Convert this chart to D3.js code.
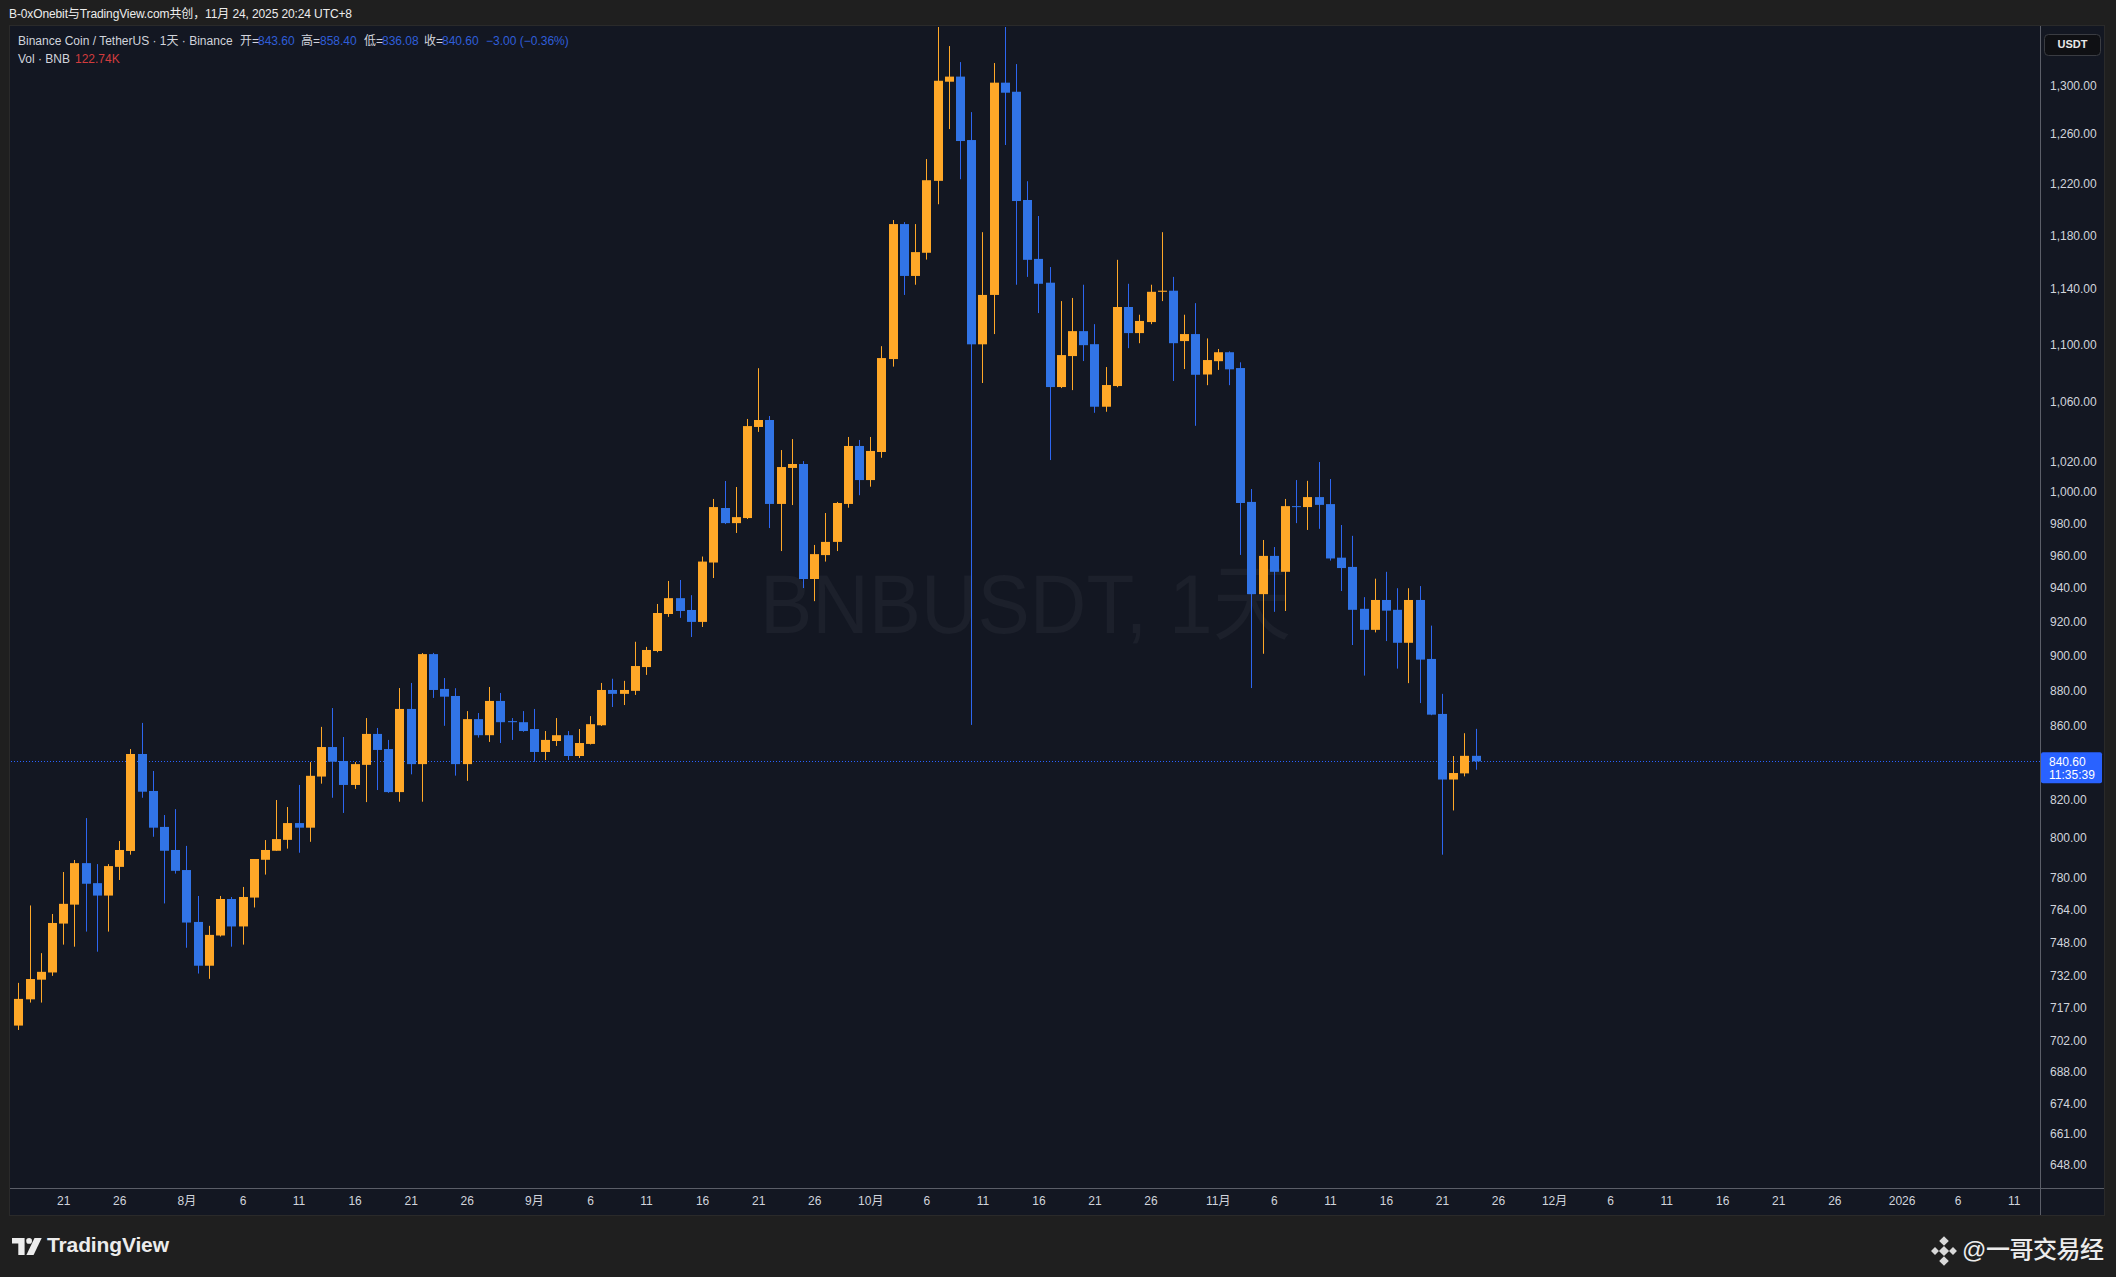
<!DOCTYPE html>
<html><head><meta charset="utf-8">
<script src="https://cdn.jsdelivr.net/npm/d3@7"></script>
<style>html,body{margin:0;padding:0;background:#1f1f1f;overflow:hidden}
text{font-family:"Liberation Sans","Noto Sans CJK SC",sans-serif}</style>
</head><body>
<svg id="c" width="2116" height="1277"></svg>
<script>
// ---------------- DATA ----------------
const firstDay = "2025-07-17";   // one daily candle per day, through 2025-11-24
const open  = [708.9,721.0,730.2,733.6,757.1,766.4,787.2,777.1,770.9,785.3,793.4,844.6,824.7,805.8,793.9,783.7,757.9,736.8,751.3,769.2,
755.7,769.9,788.9,793.5,799.1,807.8,805.4,832.4,848.4,840.8,827.9,838.7,855.6,847.3,824.1,869.5,839.1,900.8,880.8,876.8,
839.1,863.8,854.9,874.0,862.7,862.1,858.3,845.7,851.7,854.9,843.5,850.1,860.4,880.2,878.0,879.7,893.3,902.6,924.4,933.9,
926.8,919.7,955.6,989.8,980.2,983.4,1042.9,1047.6,992.4,1015.7,1018.3,945.5,960.2,968.4,992.4,1030.2,1007.8,1026.2,1089.6,1188.7,
1149.6,1166.9,1222.3,1303.0,1307.3,1254.9,1100.0,1135.6,1302.2,1294.6,1207.3,1162.3,1144.6,1070.1,1091.7,1109.4,1100.1,1056.6,1070.8,1126.8,
1108.0,1115.9,1137.9,1138.7,1102.3,1107.3,1078.8,1088.1,1094.4,1083.3,993.7,936.3,959.7,949.9,991.0,990.4,996.8,992.3,958.6,952.9,
927.5,915.0,932.8,926.9,907.4,932.8,898.0,866.7,830.8,834.1,843.6];
const high  = [728.7,766.0,742.8,761.8,782.7,788.8,810.4,786.7,786.7,798.5,847.3,861.7,835.4,812.0,815.1,796.0,770.7,756.0,770.7,770.2,
775.2,789.3,799.0,819.9,816.2,827.9,840.2,859.5,870.0,853.9,840.2,864.4,858.9,852.3,881.3,884.2,901.4,901.5,887.0,881.2,
868.3,867.2,881.9,878.5,864.4,868.3,869.5,857.2,864.4,857.2,858.3,865.5,884.2,886.6,885.4,908.0,905.0,930.4,944.3,944.9,
935.7,959.3,995.6,1007.2,1003.3,1048.3,1083.2,1050.3,1027.5,1034.8,1020.2,966.5,986.6,993.7,1036.2,1034.2,1036.2,1098.7,1191.8,1190.2,
1188.7,1239.6,1352.0,1333.3,1319.6,1277.7,1182.5,1318.8,1370.0,1317.9,1222.0,1194.9,1156.2,1131.1,1133.4,1143.1,1114.4,1084.0,1161.6,1143.8,
1121.2,1143.1,1182.5,1148.9,1121.2,1129.6,1104.2,1096.7,1095.0,1087.3,1002.0,969.6,965.2,995.6,1007.8,1007.3,1019.6,1008.5,979.0,972.2,
934.5,945.7,949.9,939.9,939.9,941.2,917.5,878.0,843.5,856.0,858.4];
const low   = [706.9,719.5,719.5,732.0,746.9,745.9,753.2,743.5,753.2,778.7,791.5,821.1,800.7,767.0,781.9,745.4,733.1,730.6,750.8,745.9,
746.9,765.0,781.4,793.5,794.6,792.5,798.1,828.6,821.1,813.1,825.8,818.8,825.2,823.7,819.0,833.6,819.0,875.7,860.1,832.9,
830.1,853.6,851.2,850.6,852.3,856.8,840.4,841.3,849.0,841.3,842.4,849.8,860.0,870.6,871.7,877.4,888.8,901.9,922.7,922.1,
910.8,916.7,946.1,979.6,974.0,982.8,1039.6,977.1,962.7,991.7,940.0,932.1,956.2,962.7,990.0,998.0,1003.5,1022.4,1084.3,1135.6,
1143.1,1161.8,1204.0,1263.8,1223.6,860.6,1072.9,1107.3,1250.9,1143.1,1148.9,1122.4,1020.9,1069.4,1068.0,1088.2,1052.5,1053.2,1070.0,1097.3,
1100.8,1114.4,1131.1,1074.3,1082.6,1043.7,1071.4,1082.0,1071.4,960.3,881.3,901.0,925.7,926.2,980.2,975.9,976.6,956.8,938.2,906.1,
888.4,913.5,908.4,892.4,884.1,872.8,866.0,791.5,814.4,832.5,836.08];
const close = [721.2,730.5,733.9,757.4,766.8,787.2,776.8,770.9,785.7,793.9,844.6,824.3,805.4,793.5,783.3,757.6,736.8,751.6,769.2,755.7,
770.2,789.3,793.9,799.5,807.8,805.4,832.8,848.4,840.4,827.9,839.1,855.6,846.8,824.1,869.5,839.1,900.8,880.2,876.4,839.1,
863.8,854.9,874.0,862.1,862.1,857.2,845.7,852.3,854.9,843.5,850.6,861.0,880.2,878.0,880.2,893.9,903.2,925.0,933.9,926.2,
919.7,956.2,990.4,980.2,984.0,1043.5,1047.6,992.4,1016.3,1018.3,945.5,960.8,968.4,993.0,1030.2,1007.8,1026.9,1090.3,1188.7,1149.6,
1167.4,1222.8,1303.8,1307.3,1254.1,1100.0,1135.6,1302.2,1293.8,1206.5,1161.6,1143.8,1070.1,1092.4,1109.4,1099.4,1056.6,1071.5,1126.8,1108.0,
1116.7,1137.9,1138.7,1100.8,1107.3,1078.6,1088.9,1094.4,1082.4,993.0,936.3,959.7,949.9,991.0,990.6,996.8,991.8,958.1,952.2,926.9,
915.0,932.8,926.4,907.4,932.8,897.6,866.3,830.8,834.3,843.6,840.6];

const xTickDates  = ["2025-07-21","2025-07-26","2025-08-01","2025-08-06","2025-08-11","2025-08-16","2025-08-21","2025-08-26",
"2025-09-01","2025-09-06","2025-09-11","2025-09-16","2025-09-21","2025-09-26","2025-10-01","2025-10-06","2025-10-11","2025-10-16",
"2025-10-21","2025-10-26","2025-11-01","2025-11-06","2025-11-11","2025-11-16","2025-11-21","2025-11-26","2025-12-01","2025-12-06",
"2025-12-11","2025-12-16","2025-12-21","2025-12-26","2026-01-01","2026-01-06","2026-01-11"];
const xTickLabels = ["21","26","8月","6","11","16","21","26","9月","6","11","16","21","26","10月","6","11","16","21","26",
"11月","6","11","16","21","26","12月","6","11","16","21","26","2026","6","11"];
const yTicks = [1300,1260,1220,1180,1140,1100,1060,1020,1000,980,960,940,920,900,880,860,820,800,780,764,748,732,717,702,688,674,661,648];
const lastPrice = 840.60;
const lastCountdown = "11:35:39";
const headerText = "B-0xOnebit与TradingView.com共创，11月 24, 2025 20:24 UTC+8";
const legendTitle = "Binance Coin / TetherUS · 1天 · Binance";
const legendPairs = [["开=","843.60"],["高=","858.40"],["低=","836.08"],["收=","840.60"]];
const legendChange = "−3.00 (−0.36%)";
const volText = ["Vol · BNB","122.74K"];
const watermark = "BNBUSDT, 1天";

// ---------------- LAYOUT ----------------
const W=2116,H=1277;
const panel={x:10,y:26,r:2104,b:1215};
const plot={l:11,t:27,r:2040,b:1188};
const UP="#ffa828", DOWN="#3174e6", DOWNW="#2d66f0";
const TXT="#d1d4dc";

const svg=d3.select("#c");
const parse=d3.utcParse("%Y-%m-%d");
const d0=parse(firstDay);
const dates=d3.utcDay.range(d0, d3.utcDay.offset(d0, open.length));
const data=dates.map((d,i)=>({d,o:open[i],h:high[i],l:low[i],c:close[i]}));

const pxDay=11.21;
const x=d3.scaleUtc().domain([d0, d3.utcDay.offset(d0,180)]).range([18.3, 18.3+180*pxDay]);
const y=d3.scaleLog().domain([638.4,1349.8]).range([plot.b,plot.t]);

// backgrounds
svg.append("rect").attr("width",W).attr("height",H).attr("fill","#1f1f1f");
svg.append("rect").attr("x",panel.x-1).attr("y",panel.y-1).attr("width",panel.r-panel.x+2).attr("height",panel.b-panel.y+2).attr("fill","#2a2a2a");
svg.append("rect").attr("x",panel.x).attr("y",panel.y).attr("width",panel.r-panel.x).attr("height",panel.b-panel.y).attr("fill","#131722");

// header
svg.append("text").attr("x",9).attr("y",14.5).attr("dominant-baseline","middle").attr("fill","#ececec")
  .style("font-size","12px").attr("textLength",343).text(headerText);

// watermark
svg.append("text").attr("x",(plot.l+plot.r)/2).attr("y",633).attr("text-anchor","middle")
  .attr("fill","#1c202b").style("font-size","84px").attr("textLength",531).attr("lengthAdjust","spacingAndGlyphs")
  .text(watermark);

// clip
svg.append("clipPath").attr("id","pc").append("rect").attr("x",plot.l).attr("y",plot.t).attr("width",plot.r-plot.l).attr("height",plot.b-plot.t);
const g=svg.append("g").attr("clip-path","url(#pc)");

// last price dotted line
g.append("line").attr("x1",plot.l).attr("x2",plot.r).attr("y1",Math.round(y(lastPrice))+0.5).attr("y2",Math.round(y(lastPrice))+0.5)
  .attr("stroke","#2962ff").attr("stroke-width",1).attr("stroke-dasharray","1,2");

// candles
const cg=g.selectAll("g.c").data(data).join("g");
cg.append("rect").attr("x",d=>Math.round(x(d.d))).attr("width",1)
  .attr("y",d=>y(d.h)).attr("height",d=>Math.max(1,y(d.l)-y(d.h)))
  .attr("fill",d=>d.c>=d.o?UP:DOWNW);
cg.append("rect").attr("x",d=>Math.round(x(d.d))-4).attr("width",9)
  .attr("y",d=>y(Math.max(d.o,d.c))).attr("height",d=>Math.max(1,Math.abs(y(d.o)-y(d.c))))
  .attr("fill",d=>d.c>=d.o?UP:DOWN);

// separators
svg.append("line").attr("x1",plot.r+0.5).attr("x2",plot.r+0.5).attr("y1",panel.y).attr("y2",panel.b).attr("stroke","#5b5e68");
svg.append("line").attr("x1",panel.x).attr("x2",panel.r).attr("y1",plot.b+0.5).attr("y2",plot.b+0.5).attr("stroke","#5b5e68");

// x axis
const xa=svg.append("g").attr("transform",`translate(0,${plot.b})`)
  .call(d3.axisBottom(x).tickValues(xTickDates.map(parse)).tickFormat((d,i)=>xTickLabels[i]).tickSize(0).tickPadding(8));
xa.select(".domain").remove();
xa.selectAll("text").attr("fill",TXT).style("font-size","12px").style("font-family",'"Liberation Sans","Noto Sans CJK SC",sans-serif');

// y axis
const ya=svg.append("g").attr("transform",`translate(${plot.r},0)`)
  .call(d3.axisRight(y).tickValues(yTicks).tickFormat(d3.format(",.2f")).tickSize(0).tickPadding(10));
ya.select(".domain").remove();
ya.selectAll("text").attr("fill",TXT).style("font-size","12px").style("font-family",'"Liberation Sans",sans-serif');

// USDT button
svg.append("rect").attr("x",2044.5).attr("y",34.5).attr("width",56).attr("height",21).attr("rx",4)
  .attr("fill","#0f1014").attr("stroke","#3a3c42");
svg.append("text").attr("x",2072.5).attr("y",45.5).attr("text-anchor","middle").attr("dominant-baseline","middle")
  .attr("fill","#e8e8e8").style("font-size","11px").style("font-weight","bold").text("USDT");

// last price label
const ly=y(lastPrice);
svg.append("rect").attr("x",plot.r+1).attr("y",ly-9).attr("width",61).attr("height",31).attr("rx",2).attr("fill","#2962ff");
svg.append("text").attr("x",2049).attr("y",ly+1).attr("dominant-baseline","middle").attr("fill","#ffffff")
  .style("font-size","12px").text(d3.format(",.2f")(lastPrice));
svg.append("text").attr("x",2049).attr("y",ly+14).attr("dominant-baseline","middle").attr("fill","#ffffff")
  .style("font-size","12px").text(lastCountdown);

// legend
const lg=svg.append("g").style("font-size","12px");
lg.append("text").attr("x",18).attr("y",45).attr("fill",TXT).text(legendTitle);
const pairX=[[240,258],[301,320],[364,382],[424,442]];
const VALC="#2f5ed9";
legendPairs.forEach((p,i)=>{
  lg.append("text").attr("x",pairX[i][0]).attr("y",45).attr("fill",TXT).text(p[0]);
  lg.append("text").attr("x",pairX[i][1]).attr("y",45).attr("fill",VALC).text(p[1]);
});
lg.append("text").attr("x",486).attr("y",45).attr("fill",VALC).text(legendChange);
lg.append("text").attr("x",18).attr("y",62.5).attr("fill",TXT).text(volText[0]);
lg.append("text").attr("x",75).attr("y",62.5).attr("fill","#d23c3e").text(volText[1]);

// footer: TradingView logo
const tv=svg.append("g").attr("transform","translate(12,1238) scale(0.9)").attr("fill","#ececec");
tv.append("path").attr("d","M0,0H14V19H7V6H0Z");
tv.append("circle").attr("cx",19).attr("cy",3.2).attr("r",3.2);
tv.append("path").attr("d","M25,0H33L24,19H16Z");
svg.append("text").attr("x",47).attr("y",1246).attr("dominant-baseline","middle").attr("fill","#ececec")
  .style("font-size","21px").style("font-weight","bold").attr("textLength",122).text("TradingView");

// footer: Binance watermark
const bn=svg.append("g").attr("transform","translate(1944,1251)").attr("fill","#d9d9d9");
[[0,0,3.6],[0,-10,3.4],[0,10,3.4],[-9,0,2.8],[9,0,2.8]].forEach(([dx,dy,s])=>{
  bn.append("rect").attr("x",dx-s).attr("y",dy-s).attr("width",2*s).attr("height",2*s).attr("transform",`rotate(45,${dx},${dy})`);
});
svg.append("text").attr("x",1962).attr("y",1252).attr("dominant-baseline","middle").attr("fill","#ececec")
  .style("font-size","24px").style("font-weight","500").attr("textLength",142).text("@一哥交易经");
</script>
</body></html>
